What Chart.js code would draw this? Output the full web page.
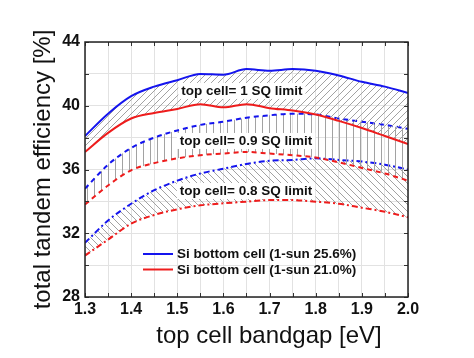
<!DOCTYPE html>
<html><head><meta charset="utf-8">
<script src="https://cdn.jsdelivr.net/npm/chart.js@4.4.0/dist/chart.umd.min.js"></script>
<style>html,body{margin:0;padding:0;background:#fff}#wrap{width:474px;height:358px}</style>
</head><body><div id="wrap"><canvas id="c" width="474" height="358"></canvas></div>
<script>
// ---- data ----
const bandgap = [1.30,1.35,1.40,1.45,1.50,1.55,1.60,1.65,1.70,1.75,1.80,1.85,1.90,1.95,2.00];
const si256_sq100 = [38.1,39.5,40.6,41.2,41.6,42.0,41.95,42.3,42.2,42.3,42.2,41.9,41.5,41.2,40.8];
const si210_sq100 = [37.1,38.3,39.2,39.55,39.8,40.1,39.9,40.1,39.85,39.7,39.45,39.05,38.6,38.1,37.6];
const si256_sq090 = [34.8,36.3,37.35,38.0,38.45,38.8,39.0,39.25,39.4,39.5,39.45,39.2,39.0,38.8,38.55];
const si210_sq090 = [33.8,35.0,35.95,36.4,36.7,36.9,37.0,37.1,37.0,36.9,36.75,36.45,36.1,35.75,35.3];
const si256_sq080 = [31.4,32.8,33.85,34.7,35.3,35.75,36.05,36.35,36.55,36.6,36.7,36.6,36.5,36.3,36.0];
const si210_sq080 = [30.6,31.6,32.6,33.15,33.5,33.75,33.88,33.98,34.08,34.08,33.98,33.85,33.6,33.35,33.0];
const legendLabels = ['Si bottom cell (1-sun 25.6%)','Si bottom cell (1-sun 21.0%)'];
const bandLabels = ['top cell= 1 SQ limit','top cell= 0.9 SQ limit','top cell= 0.8 SQ limit'];
const xTitle = 'top cell bandgap [eV]';
const yTitle = 'total tandem efficiency [%]';

const BLUE = '#1414ee', RED = '#ee1c1c', HATCH = '#a2a2a2';
const FONT = '"Liberation Sans", Arial, Helvetica, sans-serif';

function hatch(kind){
  const s = 7, c = document.createElement('canvas');
  c.width = s; c.height = s;
  const g = c.getContext('2d');
  g.strokeStyle = HATCH; g.lineWidth = 1;
  g.beginPath();
  if (kind === 'v'){ g.moveTo(3.5,0); g.lineTo(3.5,s); }
  else if (kind === '/'){ g.moveTo(-1,s+1); g.lineTo(s+1,-1); g.moveTo(-1,1); g.lineTo(1,-1); g.moveTo(s-1,s+1); g.lineTo(s+1,s-1); }
  else { g.moveTo(-1,-1); g.lineTo(s+1,s+1); g.moveTo(s-1,-1); g.lineTo(s+1,1); g.moveTo(-1,s-1); g.lineTo(1,s+1); }
  g.stroke();
  return g.createPattern(c,'repeat');
}
const pts = ys => bandgap.map((x,i)=>({x, y: ys[i]}));
const ln = (data,color,dash,fill,bg) => ({data: pts(data), borderColor: color, borderWidth: 2, borderDash: dash,
  pointRadius: 0, cubicInterpolationMode: 'monotone', fill: fill, backgroundColor: bg || 'transparent'});

const datasets = [
  ln(si256_sq100, BLUE, [], false),
  ln(si210_sq100, RED, [], '-1', hatch('/')),
  ln(si256_sq090, BLUE, [5,4], false),
  ln(si210_sq090, RED, [5,4], '-1', hatch('v')),
  ln(si256_sq080, BLUE, [6,3,2,3], false),
  ln(si210_sq080, RED, [6,3,2,3], '-1', hatch('\\')),
];

const deco = {
  id: 'deco',
  afterDatasetsDraw(chart){
    const {ctx, chartArea: a, scales: {x, y}} = chart;
    ctx.save();
    // band labels with white background
    ctx.font = 'bold 13.5px ' + FONT;
    ctx.textAlign = 'center'; ctx.textBaseline = 'middle';
    const anchors = [[1.640,40.93],[1.649,37.79],[1.649,34.65]];
    bandLabels.forEach((t,i)=>{
      const px = x.getPixelForValue(anchors[i][0]), py = y.getPixelForValue(anchors[i][1]);
      const w = ctx.measureText(t).width;
      ctx.fillStyle = '#fff'; ctx.fillRect(px - w/2 - 3, py - 8, w + 6, 16);
      ctx.fillStyle = '#111'; ctx.fillText(t, px, py);
    });
    // legend
    const cols = [BLUE, RED];
    ctx.textAlign = 'left';
    legendLabels.forEach((t,i)=>{
      const ly = a.top + 212 + i*15.5;
      ctx.strokeStyle = cols[i]; ctx.lineWidth = 2; ctx.setLineDash([]);
      ctx.beginPath(); ctx.moveTo(a.left + 58, ly); ctx.lineTo(a.left + 88, ly); ctx.stroke();
      ctx.fillStyle = '#111'; ctx.fillText(t, a.left + 92, ly + 0.5);
    });
    // inner ticks
    ctx.strokeStyle = '#333'; ctx.lineWidth = 1;
    ctx.beginPath();
    x.ticks.forEach(tk=>{ const p = Math.round(x.getPixelForValue(tk.value))+0.5;
      ctx.moveTo(p,a.bottom); ctx.lineTo(p,a.bottom-4); ctx.moveTo(p,a.top); ctx.lineTo(p,a.top+4); });
    y.ticks.forEach(tk=>{ const p = Math.round(y.getPixelForValue(tk.value))+0.5;
      ctx.moveTo(a.left,p); ctx.lineTo(a.left+4,p); ctx.moveTo(a.right,p); ctx.lineTo(a.right-4,p); });
    ctx.stroke();
    // frame
    ctx.strokeStyle = '#222'; ctx.lineWidth = 1.5;
    ctx.strokeRect(a.left, a.top, a.right - a.left, a.bottom - a.top);
    // axis titles
    ctx.fillStyle = '#111';
    ctx.font = '24px ' + FONT;
    ctx.textAlign = 'center'; ctx.textBaseline = 'alphabetic';
    ctx.fillText(xTitle, a.left + 184, 343);
    ctx.translate(50, (a.top + a.bottom)/2);
    ctx.rotate(-Math.PI/2);
    ctx.fillText(yTitle, 0, 0);
    ctx.restore();
  }
};

new Chart(document.getElementById('c'), {
  type: 'line',
  data: { datasets },
  options: {
    responsive: false, animation: false, devicePixelRatio: 1,
    layout: { padding: { top: 42, right: 66, left: 0, bottom: 0 } },
    plugins: { legend: { display: false }, tooltip: { enabled: false } },
    scales: {
      x: { type: 'linear', min: 1.3, max: 2.0,
        afterFit: s => { s.height = 61; },
        border: { display: false },
        grid: { color: '#e2e2e2', drawTicks: false },
        ticks: { stepSize: 0.05, autoSkip: false, maxRotation: 0, padding: 3, color: '#111',
          font: { family: FONT, size: 16, weight: 'bold' },
          callback: v => (Math.round(v*100) % 10 === 0 ? v.toFixed(1) : '') } },
      y: { min: 28, max: 44,
        afterFit: s => { s.width = 85; },
        border: { display: false },
        grid: { color: '#e2e2e2', drawTicks: false },
        ticks: { stepSize: 2, autoSkip: false, padding: 5, color: '#111',
          font: { family: FONT, size: 16, weight: 'bold' },
          callback: v => (Math.round(v) % 4 === 0 ? String(Math.round(v)) : '') } }
    }
  },
  plugins: [deco]
});
</script></body></html>
